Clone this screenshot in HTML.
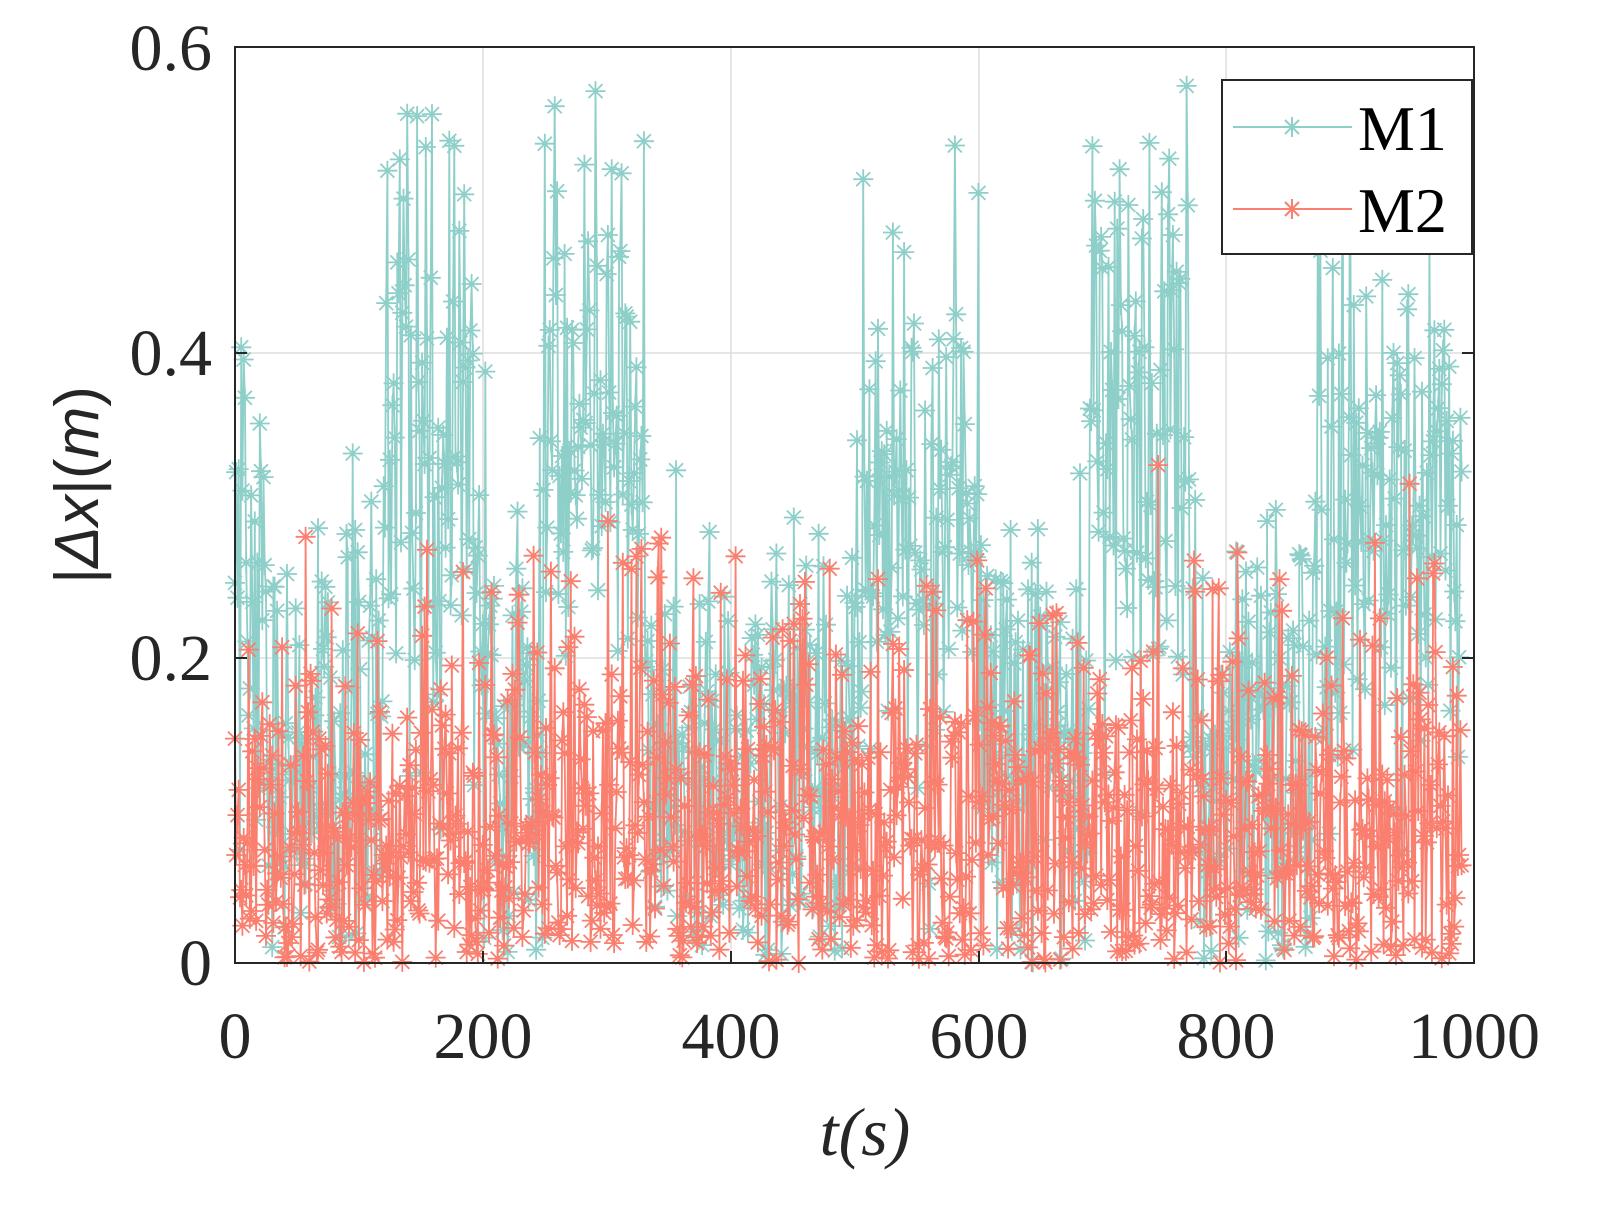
<!DOCTYPE html>
<html><head><meta charset="utf-8"><style>
html,body{margin:0;padding:0;background:#fff;}
svg{display:block}
</style></head><body>
<svg id="s" width="1599" height="1210" xmlns="http://www.w3.org/2000/svg">
<rect width="1599" height="1210" fill="#fff"/>
<g id="grid" stroke="#dedede" stroke-width="1.5">
<line x1="483" y1="47" x2="483" y2="963"/><line x1="731" y1="47" x2="731" y2="963"/>
<line x1="979" y1="47" x2="979" y2="963"/><line x1="1226" y1="47" x2="1226" y2="963"/>
<line x1="235" y1="658" x2="1474" y2="658"/><line x1="235" y1="353" x2="1474" y2="353"/>
</g>
<g id="data"></g>
<rect x="235" y="47" width="1239" height="916" fill="none" stroke="#262626" stroke-width="2"/>
<g stroke="#262626" stroke-width="2">
<line x1="483" y1="963" x2="483" y2="951"/><line x1="731" y1="963" x2="731" y2="951"/>
<line x1="979" y1="963" x2="979" y2="951"/><line x1="1226" y1="963" x2="1226" y2="951"/>
<line x1="235" y1="658" x2="247" y2="658"/><line x1="235" y1="353" x2="247" y2="353"/>
<line x1="1474" y1="658" x2="1462" y2="658"/><line x1="1474" y1="353" x2="1462" y2="353"/>
</g>
<g font-family="Liberation Serif, serif" font-size="66" fill="#262626">
<text x="235" y="1058" text-anchor="middle">0</text>
<text x="483" y="1058" text-anchor="middle">200</text>
<text x="731" y="1058" text-anchor="middle">400</text>
<text x="979" y="1058" text-anchor="middle">600</text>
<text x="1226" y="1058" text-anchor="middle">800</text>
<text x="1474" y="1058" text-anchor="middle">1000</text>
<text x="212" y="985" text-anchor="end">0</text>
<text x="212" y="680" text-anchor="end">0.2</text>
<text x="212" y="375" text-anchor="end">0.4</text>
<text x="212" y="70" text-anchor="end">0.6</text>
<text x="865" y="1155" text-anchor="middle" font-style="italic" font-size="68">t(s)</text>
</g>
<text transform="translate(98,485) rotate(-90)" text-anchor="middle" font-family="Liberation Sans, sans-serif" font-size="62" fill="#262626">|<tspan font-style="italic">Δx</tspan>|(<tspan font-style="italic">m</tspan>)</text>
<g>
<rect x="1222" y="80" width="250" height="174" fill="#fff" stroke="#262626" stroke-width="2"/>
<line x1="1233" y1="127" x2="1352" y2="127" stroke="#8ecfc9" stroke-width="2"/>
<line x1="1233" y1="209" x2="1352" y2="209" stroke="#fa7f6f" stroke-width="2"/>
<g id="lm"></g>
<text x="1358" y="150" font-family="Liberation Serif, serif" font-size="64" fill="#000">M1</text>
<text x="1358" y="232" font-family="Liberation Serif, serif" font-size="64" fill="#000">M2</text>
</g>
</svg>
<script>
(function(){
var seed=12345;function r(){seed=(seed*1103515245+12345)%2147483648;return seed/2147483648;}
function g(){var u=r()||1e-9,v=r();return Math.sqrt(-2*Math.log(u))*Math.cos(2*Math.PI*v);}
function X(t){return 235+t*1.239;}function Y(v){return 963-v*1526.7;}
function star(x,y){var a=10,b=7;return "M"+(x-a)+" "+y+"h"+(2*a)+"M"+x+" "+(y-a)+"v"+(2*a)+"M"+(x-b)+" "+(y-b)+"l"+(2*b)+" "+(2*b)+"M"+(x-b)+" "+(y+b)+"l"+(2*b)+" "+(-2*b);}
var hi=[[0,25,0.28],[120,200,0.33],[250,330,0.36],[500,600,0.3],[690,770,0.36],[870,990,0.3]];
function m1(t){var m=0.13,s=0.08;for(var i=0;i<hi.length;i++){var h=hi[i];if(t>=h[0]&&t<=h[1]){m=h[2];s=0.1;}}return [m,s];}
var N=990;
var p1=[],p2=[];
for(var t=0;t<=N;t++){var ms=m1(t);var v=Math.abs(ms[0]+ms[1]*g());if(v>0.58)v=0.58-r()*0.05;p1.push([X(t),Y(v)]);
var w=Math.abs(0.08+0.07*g());if(r()<0.05)w=0.18+r()*0.1;if(w>0.38)w=0.2;p2.push([X(t),Y(w)]);}
function draw(p,c){var pts=p.map(function(q){return q[0].toFixed(1)+","+q[1].toFixed(1)}).join(" ");
var d="";for(var i=0;i<p.length;i++)d+=star(p[i][0].toFixed(1)*1,p[i][1].toFixed(1)*1);
return '<polyline points="'+pts+'" fill="none" stroke="'+c+'" stroke-width="1.8"/><path d="'+d+'" fill="none" stroke="'+c+'" stroke-width="1.8"/>';}
document.getElementById("data").innerHTML=draw(p1,"#8ecfc9")+draw(p2,"#fa7f6f");
document.getElementById("lm").innerHTML='<path d="'+star(1292,127)+'" stroke="#8ecfc9" stroke-width="2" fill="none"/><path d="'+star(1292,209)+'" stroke="#fa7f6f" stroke-width="2" fill="none"/>';
})();
</script>
</body></html>
